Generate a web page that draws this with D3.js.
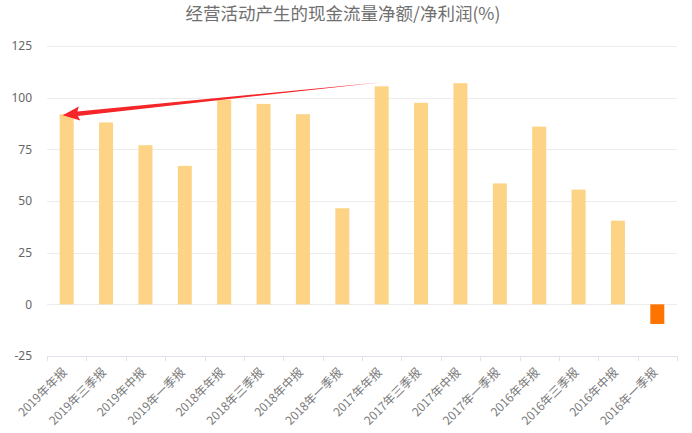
<!DOCTYPE html>
<html><head><meta charset="utf-8">
<script src="https://cdn.jsdelivr.net/npm/d3@7/dist/d3.min.js"></script>
<style>body{margin:0;background:#fff;}svg{display:block;}</style>
</head><body>
<svg id="c" width="692" height="433"></svg>
<script>
const title = "经营活动产生的现金流量净额/净利润(%)";
const categories = ["2019年年报","2019年三季报","2019年中报","2019年一季报","2018年年报","2018年三季报","2018年中报","2018年一季报","2017年年报","2017年三季报","2017年中报","2017年一季报","2016年年报","2016年三季报","2016年中报","2016年一季报"];
const values = [92, 88, 77, 67, 99, 97, 92, 46.5, 105.5, 97.5, 107, 58.5, 86, 55.5, 40.5, -9.5];
const yTicks = [-25, 0, 25, 50, 75, 100, 125];
// annotation arrow: from (category index, value) to (category index, value)
const arrowFrom = [8, 107.5];
const arrowTo = [0, 91.5];

const svg = d3.select("#c");
const m = {l:47, r:15, t:46, b:77};
const W = 692, H = 433;
const x = d3.scaleBand().domain(categories).range([m.l, W - m.r]);
const y = d3.scaleLinear().domain([-25, 125]).range([H - m.b, m.t]);

svg.append("text").attr("x", 343).attr("y", 20).attr("text-anchor", "middle")
  .attr("font-family", "'Noto Sans CJK SC', sans-serif").attr("font-size", 17.5)
  .attr("fill", "#707070").text(title);

// grid
svg.append("g").selectAll("line").data(yTicks.filter(d => d !== -25)).join("line")
  .attr("x1", m.l).attr("x2", W - m.r).attr("y1", d => Math.round(y(d)) + 0.5).attr("y2", d => Math.round(y(d)) + 0.5)
  .attr("stroke", "#ececec").attr("stroke-width", 1);

// y labels
svg.append("g").selectAll("text").data(yTicks).join("text")
  .attr("x", 32).attr("y", d => y(d)).attr("dy", "0.35em").attr("text-anchor", "end")
  .attr("font-family", "'Noto Sans', sans-serif").attr("font-size", 12).attr("fill", "#666").text(d => d);

// bars
const bw = 14;
svg.append("g").selectAll("rect").data(values).join("rect")
  .attr("x", (d, i) => x(categories[i]) + x.bandwidth() / 2 - bw / 2)
  .attr("width", bw)
  .attr("y", d => y(Math.max(0, d)))
  .attr("height", d => Math.abs(y(d) - y(0)))
  .attr("fill", d => d < 0 ? "#ff7400" : "#fdd385");

// x axis
const xa = svg.append("g").attr("transform", `translate(0,${y(-25)})`)
  .call(d3.axisBottom(x).tickSize(0).tickFormat(""));
xa.select(".domain").attr("stroke", "#dfe3ee");
xa.selectAll(".tick").remove();
const bounds = categories.map(c => x(c)).concat([x(categories[categories.length-1]) + x.bandwidth()]);
svg.append("g").selectAll("line").data(bounds).join("line")
  .attr("x1", d => Math.round(d) + 0.5).attr("x2", d => Math.round(d) + 0.5)
  .attr("y1", y(-25)).attr("y2", y(-25) + 5).attr("stroke", "#dfe3ee");

svg.append("g").selectAll("text").data(categories).join("text")
  .attr("transform", d => `translate(${x(d) + x.bandwidth()/2 + 1},${y(-25) + 17}) rotate(-45)`)
  .attr("text-anchor", "end")
  .attr("font-family", "'Noto Sans CJK SC', sans-serif").attr("font-size", 12)
  .attr("fill", "#7a7a7a").text(d => d);

// arrow annotation
const x0 = x(categories[arrowFrom[0]]) + x.bandwidth()/2, y0 = y(arrowFrom[1]);
const x1 = x(categories[arrowTo[0]]) - 4 + x.bandwidth()/2, y1 = y(arrowTo[1]);
const dx = x1 - x0, dy = y1 - y0, len = Math.hypot(dx, dy);
const ux = dx/len, uy = dy/len, nx = -uy, ny = ux;
const headL = 15, headW = 7, shaftW = 2.2;
const hx = x1 - ux*headL, hy = y1 - uy*headL;
const pts = [
  [x0, y0],
  [hx + nx*shaftW, hy + ny*shaftW],
  [hx + nx*headW - ux*2, hy + ny*headW - uy*2],
  [x1, y1],
  [hx - nx*headW - ux*2, hy - ny*headW - uy*2],
  [hx - nx*shaftW, hy - ny*shaftW]
];
svg.append("path").attr("d", "M" + pts.map(p => p.join(",")).join("L") + "Z")
  .attr("fill", "#f5252a");
</script>
</body></html>
